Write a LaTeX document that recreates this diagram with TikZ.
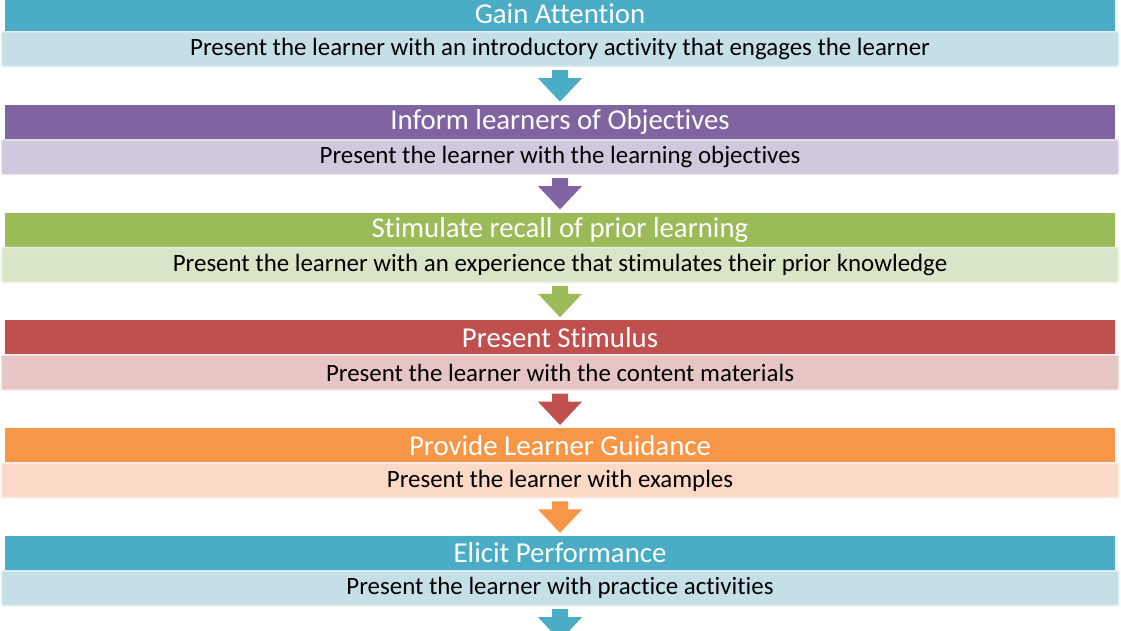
\documentclass[tikz,border=0pt]{standalone}
\usepackage{fontspec}
\setmainfont{Carlito}[Ligatures=NoCommon]
\usetikzlibrary{positioning,calc}

\definecolor{aquadark}{HTML}{4BACC6}
\definecolor{aqualight}{HTML}{C5DFE7}
\definecolor{purpledark}{HTML}{8064A2}
\definecolor{purplelight}{HTML}{D0C8DD}
\definecolor{greendark}{HTML}{9BBB59}
\definecolor{greenlight}{HTML}{D9E5C7}
\definecolor{reddark}{HTML}{C0504D}
\definecolor{redlight}{HTML}{E6C5C4}
\definecolor{orangedark}{HTML}{F79646}
\definecolor{orangelight}{HTML}{FCD8C6}

\tikzset{
  header/.style={fill=#1, text=white, minimum width=1110pt, minimum height=34pt,
    inner sep=0pt, font=\fontsize{28.8}{32}\selectfont},
  detail/.style={fill=#1, draw=#1!55, line width=1.5pt, rounded corners=2pt,
    minimum width=1117pt, minimum height=34.5pt, inner sep=0pt,
    font=\fontsize{24.9}{28}\selectfont},
  stagearrow/.style={fill=#1, draw=none, to path={
    ($(\tikztostart.south)+(-8,3)$) -- ++(16,0) -- ++(0,8) -- ++(14,0)
    -- ($(\tikztotarget.north)+(0,-3)$) -- ($(\tikztostart.south)+(-22,11)$)
    -- ++(14,0) -- cycle}}
}

\begin{document}
\begin{tikzpicture}[x=1pt,y=-1pt]
  \useasboundingbox (0,0) rectangle (1121,630);

  \node[header=aquadark] (gain) at (560,14) {Gain Attention};
  \node[detail=aqualight, below=0pt of gain] (gaintxt) {Present the learner with an introductory activity that engages the learner};

  \node[header=purpledark, below=37.4pt of gaintxt] (inform) {Inform learners of Objectives};
  \node[detail=purplelight, below=0pt of inform] (informtxt) {Present the learner with the learning objectives};

  \node[header=greendark, below=37.4pt of informtxt] (recall) {Stimulate recall of prior learning};
  \node[detail=greenlight, below=0pt of recall] (recalltxt) {Present the learner with an experience that stimulates their prior knowledge};

  \node[header=reddark, below=37.4pt of recalltxt] (stimulus) {Present Stimulus};
  \node[detail=redlight, below=0pt of stimulus] (stimulustxt) {Present the learner with the content materials};

  \node[header=orangedark, below=37.4pt of stimulustxt] (guidance) {Provide Learner Guidance};
  \node[detail=orangelight, below=0pt of guidance] (guidancetxt) {Present the learner with examples};

  \node[header=aquadark, below=37.4pt of guidancetxt] (perform) {Elicit Performance};
  \node[detail=aqualight, below=0pt of perform] (performtxt) {Present the learner with practice activities};
  \coordinate[below=37.4pt of performtxt] (next);

  % block arrows between the stages
  \path[stagearrow=aquadark] (gaintxt) to (inform);
  \path[stagearrow=purpledark] (informtxt) to (recall);
  \path[stagearrow=greendark] (recalltxt) to (stimulus);
  \path[stagearrow=reddark] (stimulustxt) to (guidance);
  \path[stagearrow=orangedark] (guidancetxt) to (perform);
  \path[stagearrow=aquadark] (performtxt) to (next);
\end{tikzpicture}
\end{document}
